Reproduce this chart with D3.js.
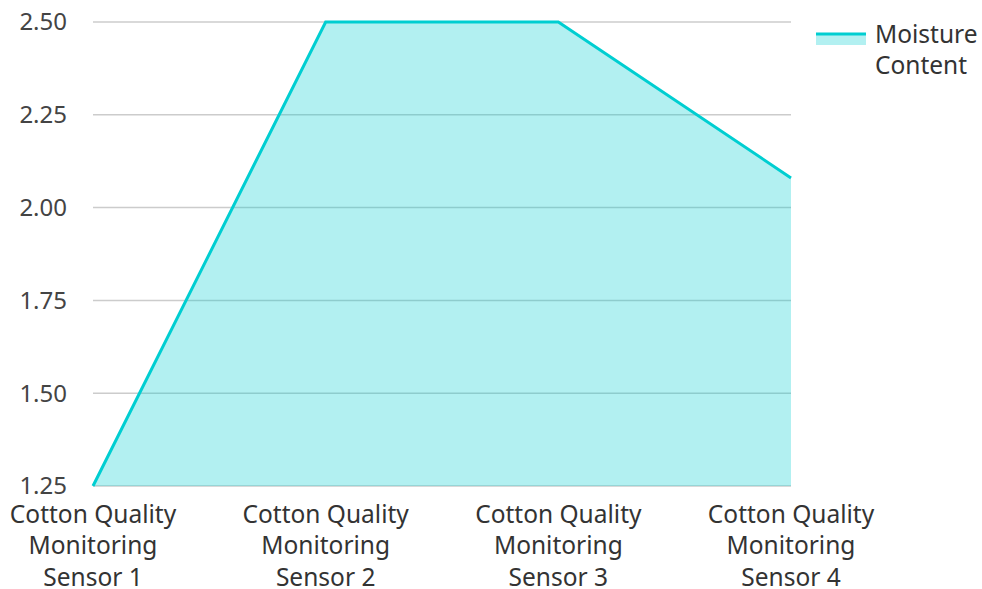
<!DOCTYPE html>
<html><head><meta charset="utf-8">
<script src="https://cdn.jsdelivr.net/npm/d3@7"></script>
<style>body{margin:0;background:#fff;} svg{display:block;font-family:"Noto Sans","Open Sans",sans-serif;}</style>
</head><body>
<svg id="c" width="982" height="589"></svg>
<script>
const categories = ["Cotton Quality Monitoring Sensor 1","Cotton Quality Monitoring Sensor 2","Cotton Quality Monitoring Sensor 3","Cotton Quality Monitoring Sensor 4"];
const categoryLines = [["Cotton Quality","Monitoring","Sensor 1"],["Cotton Quality","Monitoring","Sensor 2"],["Cotton Quality","Monitoring","Sensor 3"],["Cotton Quality","Monitoring","Sensor 4"]];
const moisture = [1.25, 2.5, 2.5, 2.08];
const yTicks = [1.25, 1.5, 1.75, 2.0, 2.25, 2.5];
const seriesName = ["Moisture","Content"];

(function(){
const svg = d3.select("#c");
const mLeft = 93, mRight = 791, mTop = 22, mBottom = 486;
const x = d3.scalePoint().domain(categories).range([mLeft, mRight]);
const y = d3.scaleLinear().domain([1.25, 2.5]).range([mBottom, mTop]);
const color = "#00CED1";
const fs = 24.5;

svg.append("g").selectAll("line").data(yTicks).join("line")
  .attr("x1", mLeft).attr("x2", mRight)
  .attr("y1", d => y(d)).attr("y2", d => y(d))
  .attr("stroke", "#cccccc").attr("stroke-width", 1.5);

svg.append("g").selectAll("text").data(yTicks).join("text")
  .attr("x", 67).attr("y", d => y(d)).attr("dy", "0.35em")
  .attr("text-anchor", "end").attr("font-size", 24).attr("fill", "#444")
  .text(d => d.toFixed(2));

const data = categories.map((c, i) => ({c, v: moisture[i]}));
svg.append("path").datum(data)
  .attr("d", d3.area().x(d => x(d.c)).y0(y(1.25)).y1(d => y(d.v)))
  .attr("fill", color).attr("fill-opacity", 0.3);
svg.append("path").datum(data)
  .attr("d", d3.line().x(d => x(d.c)).y(d => y(d.v)))
  .attr("fill", "none").attr("stroke", color).attr("stroke-width", 3);

const xl = svg.append("g").selectAll("text").data(categories).join("text")
  .attr("text-anchor", "middle").attr("font-size", fs).attr("fill", "#333")
  .attr("x", d => x(d)).attr("y", 522.5);
xl.each(function(d, i) {
  d3.select(this).selectAll("tspan").data(categoryLines[i]).join("tspan")
    .attr("x", x(d)).attr("dy", (t, j) => j === 0 ? 0 : 31.8).text(t => t);
});

const lg = svg.append("g");
lg.append("rect").attr("x", 816).attr("y", 33).attr("width", 50).attr("height", 12)
  .attr("fill", color).attr("fill-opacity", 0.3);
lg.append("line").attr("x1", 816).attr("x2", 866).attr("y1", 34).attr("y2", 34)
  .attr("stroke", color).attr("stroke-width", 3);
lg.append("text").attr("x", 875).attr("y", 42.5).attr("font-size", fs).attr("fill", "#333")
  .selectAll("tspan").data(seriesName).join("tspan")
  .attr("x", 875).attr("dy", (t, j) => j === 0 ? 0 : 31.5).text(t => t);
})();
</script>
</body></html>
